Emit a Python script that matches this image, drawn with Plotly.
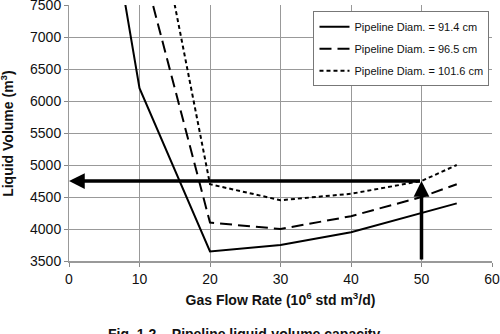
import plotly.graph_objects as go

gas_flow = [5, 10, 20, 30, 40, 50, 55]
vol_914 = [9450, 6200, 3650, 3750, 3950, 4250, 4400]
gas_flow_965 = [10, 20, 30, 40, 50, 55]
vol_965 = [8300, 4100, 4000, 4200, 4500, 4700]
gas_flow_1016 = [10, 20, 30, 40, 50, 55]
vol_1016 = [10300, 4700, 4450, 4550, 4750, 5000]

names = ["Pipeline Diam. = 91.4 cm", "Pipeline Diam. = 96.5 cm", "Pipeline Diam. = 101.6 cm"]
x_ticks = [0, 10, 20, 30, 40, 50, 60]
y_ticks = [3500, 4000, 4500, 5000, 5500, 6000, 6500, 7000, 7500]

design_flow = 50
design_vol = 4750

fig = go.Figure()
fig.add_trace(go.Scatter(x=gas_flow, y=vol_914, mode="lines", name=names[0], legendgroup="a",
                         line=dict(color="black", width=2, dash="solid")))
fig.add_trace(go.Scatter(x=gas_flow_965, y=vol_965, mode="lines", name=names[1], legendgroup="b",
                         line=dict(color="black", width=2, dash="12px,6px")))
fig.add_trace(go.Scatter(x=gas_flow_1016, y=vol_1016, mode="lines", name=names[2], legendgroup="c",
                         line=dict(color="black", width=2, dash="4px,3px")))

# arrows
fig.add_annotation(x=0, y=design_vol, ax=design_flow, ay=design_vol, xref="x", yref="y",
                   axref="x", ayref="y", showarrow=True, arrowhead=2, arrowsize=0.9,
                   arrowwidth=3.5, arrowcolor="black", text="", standoff=0)
fig.add_annotation(x=design_flow, y=design_vol, ax=design_flow, ay=3500, xref="x", yref="y",
                   axref="x", ayref="y", showarrow=True, arrowhead=2, arrowsize=0.9,
                   arrowwidth=3.5, arrowcolor="black", text="", standoff=0)

# y-axis title
fig.add_annotation(text="<b>Liquid Volume (m<sup>3</sup>)</b>", xref="paper", yref="paper",
                   x=-0.147, y=0.5, xanchor="center", yanchor="middle", textangle=-90,
                   showarrow=False, font=dict(family="Liberation Sans, Arial", size=14, color="#111"))

fig.add_annotation(text="<b>Fig. 1.2    Pipeline liquid-volume capacity</b>", xref="paper", yref="paper",
                   x=0.415, y=-0.245, xanchor="center", yanchor="top", showarrow=False,
                   font=dict(family="Liberation Sans, Arial", size=14, color="#111"))

fig.update_layout(
    width=500, height=334,
    margin=dict(l=69, r=8, t=5, b=73),
    paper_bgcolor="white", plot_bgcolor="white",
    font=dict(family="Liberation Sans, Arial", color="#111"),
    showlegend=True,
    legend=dict(x=0.578, y=0.976, xanchor="left", yanchor="top",
                bgcolor="white", bordercolor="#777", borderwidth=1,
                font=dict(size=11, color="#111"), tracegroupgap=3, traceorder="grouped"),
    xaxis=dict(range=[0, 60], tickvals=x_ticks, ticks="outside", ticklen=4, tickcolor="#888",
               showgrid=True, gridcolor="#999", gridwidth=1, showline=True, linecolor="#999",
               linewidth=2, mirror=False, zeroline=False, ticklabeloverflow="allow",
               automargin=False,
               tickfont=dict(size=14, color="#111"),
               title=dict(text="<b>Gas Flow Rate (10<sup>6</sup> std m<sup>3</sup>/d)</b>",
                          font=dict(size=14), standoff=9)),
    yaxis=dict(range=[3500, 7500], tickvals=y_ticks, ticks="outside", ticklen=4, tickcolor="#888",
               showgrid=True, gridcolor="#999", gridwidth=1, showline=True, linecolor="#999",
               linewidth=1, zeroline=False, ticklabeloverflow="allow", automargin=False,
               tickfont=dict(size=14, color="#111")),
)

fig.write_html("out.html")
